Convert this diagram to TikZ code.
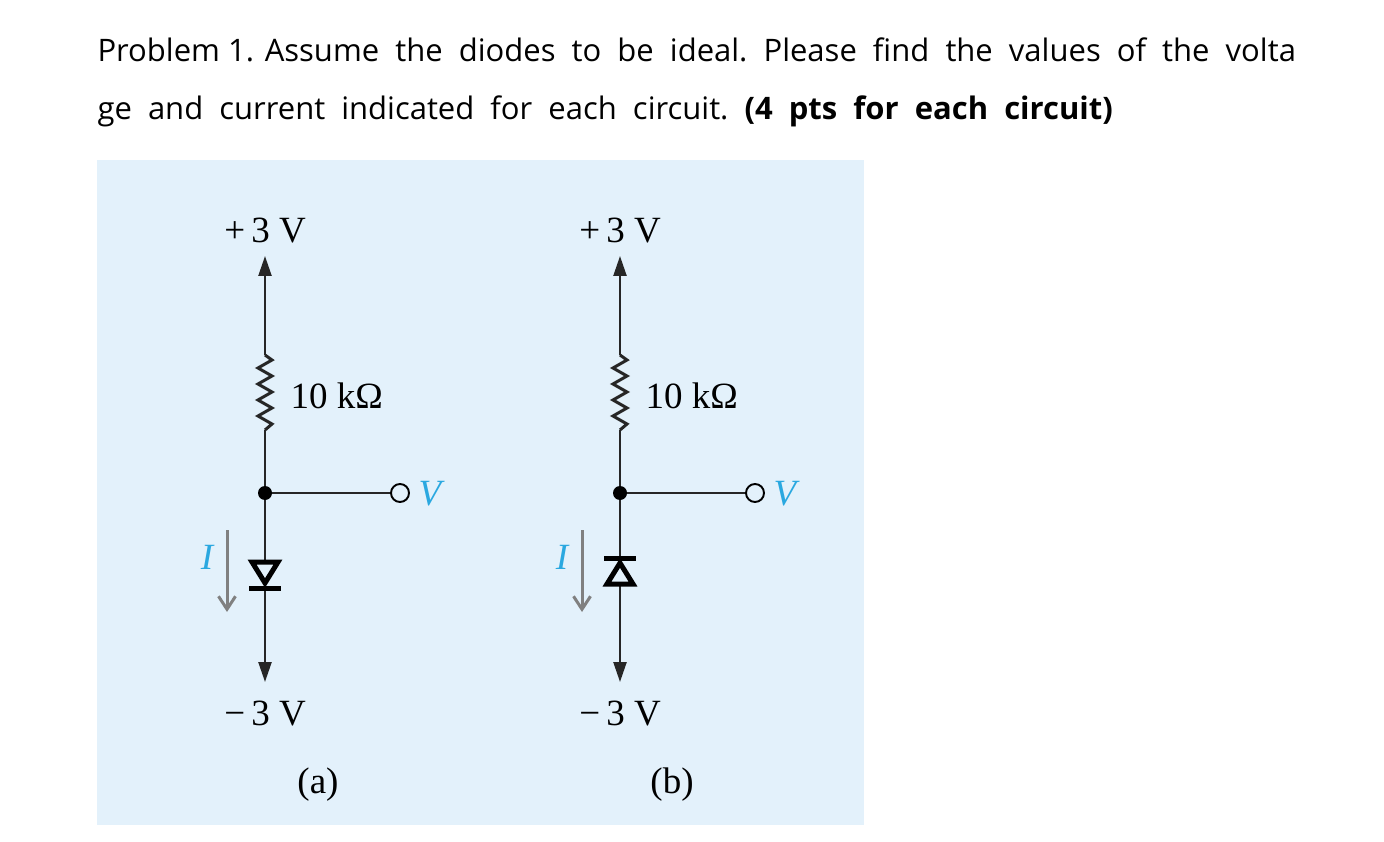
\documentclass[tikz,border=0pt]{standalone}
\usepackage{fontspec}
\setmainfont{Liberation Serif}
\newfontfamily\titlefont{Open Sans}
\usetikzlibrary{arrows.meta}
\definecolor{bgblue}{HTML}{E3F1FB}
\definecolor{lblue}{HTML}{2AA8E0}
\begin{document}
\begin{tikzpicture}[x=1pt,y=-1pt,
  wire/.style={line width=2.4pt,black!85},
  tip/.style={-{Triangle[length=20pt,width=13pt]}},
  lbl/.style={font=\fontsize{37}{40}\selectfont},
  cur/.style={line width=3pt,gray,-{Straight Barb[length=13pt,width=17pt]}},
  dot/.style={circle,fill=black,inner sep=0pt,minimum size=14pt},
  term/.style={circle,draw=black,line width=1.9pt,fill=bgblue,inner sep=0pt,minimum size=18pt}]
\useasboundingbox (0,0) rectangle (1384,842);
\fill[white] (0,0) rectangle (1384,842);
\node[anchor=west,font=\titlefont\fontsize{31}{34}\selectfont] (t1) at (94,50) {Problem 1. Assume\ \ the\ \ diodes\ \ to\ \ be\ \ ideal.\ \ Please\ \ find\ \ the\ \ values\ \ of\ \ the\ \ volta};
\node[anchor=west,font=\titlefont\fontsize{31}{34}\selectfont] (t2) at (94,111) {ge\ \ and\ \ current\ \ indicated\ \ for\ \ each\ \ circuit.\ \ \textbf{(4\ \ pts\ \ for\ \ each\ \ circuit)}};
\fill[bgblue] (97,160) rectangle (864,825);
\foreach \cx/\lab/\tx in {265/a/318,620/b/672}{
  \coordinate (top\lab) at (\cx,256);
  \coordinate (bot\lab) at (\cx,682);
  \node[dot] (n\lab) at (\cx,493) {};
  \node[term] (o\lab) at (\cx+135,493) {};
  \node[text=lblue,anchor=west,font=\fontsize{37}{40}\selectfont\itshape] (v\lab) at (\cx+150,494) {V};
  \draw[wire,tip] (\cx,355) -- (top\lab);
  \draw[wire,line width=3pt] (\cx,355) -- (\cx+7,360) -- (\cx-7,368) -- (\cx+7,376) -- (\cx-7,384) -- (\cx+7,392) -- (\cx-7,400) -- (\cx+7,408) -- (\cx-7,416) -- (\cx+7,424) -- (\cx,430);
  \draw[wire] (\cx,430) -- (n\lab);
  \draw[wire] (n\lab) -- (o\lab);
  \draw[wire,tip] (n\lab) -- (bot\lab);
  \node[lbl,anchor=west] (r\lab) at (\cx+22,396) {10 kΩ};
  \node[lbl] (p\lab) at (\cx,231) {+\,3 V};
  \node[lbl] (m\lab) at (\cx,714) {−\,3 V};
  \node[lbl] (c\lab) at (\tx,785) {(\lab)};
  \node[text=lblue,font=\fontsize{37}{40}\selectfont\itshape] (i\lab) at (\cx-58,557) {I};
  \draw[cur] (\cx-38,530) -- (\cx-38,612);
}
% diode a: pointing down
\draw[line width=5pt,fill=bgblue,line join=miter] (252,562) -- (278,562) -- (265,583) -- cycle;
\draw[line width=5pt] (249,588) -- (281,588);
% diode b: pointing up
\draw[line width=5pt,fill=bgblue,line join=miter] (607,584) -- (633,584) -- (620,563) -- cycle;
\draw[line width=5pt] (604,558) -- (636,558);
\end{tikzpicture}
\end{document}
